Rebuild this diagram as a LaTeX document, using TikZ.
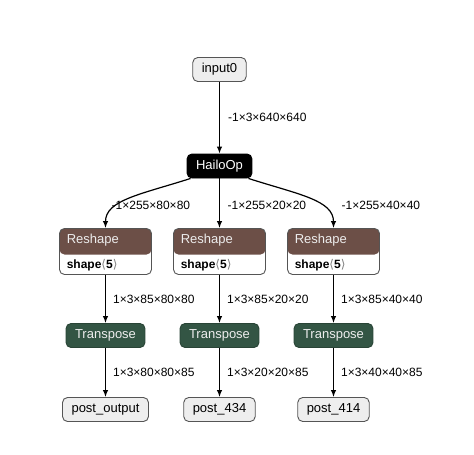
\documentclass[tikz,border=0pt]{standalone}
\usepackage{fontspec}
\setmainfont{Liberation Sans}
\newfontfamily\symfont{DejaVu Sans}
\usepackage{xcolor}
\usepackage{tikz}
\usetikzlibrary{arrows.meta,positioning}

\definecolor{nodegray}{HTML}{EEEEEE}
\definecolor{bordergray}{HTML}{555555}
\definecolor{layerbrown}{HTML}{6C4F47}
\definecolor{transgreen}{HTML}{335544}

\begin{document}
\begin{tikzpicture}[x=1pt,y=1pt,
        op/.style={draw=bordergray, line width=0.9pt, rounded corners=5pt, fill=nodegray,
            minimum height=24pt, inner xsep=9pt, inner ysep=0pt, font=\fontsize{13}{15}\selectfont},
        hailo/.style={op, fill=black, draw=black, text=white},
        trans/.style={op, fill=transgreen, draw=transgreen!80!black, text=white!93!black},
        reshape/.style={draw=bordergray, line width=0.9pt, rounded corners=5pt, fill=white,
            minimum width=92pt, minimum height=46pt, inner sep=0pt,
            path picture={\fill[layerbrown] ([yshift=-26pt]path picture bounding box.north west)
                rectangle (path picture bounding box.north east);}},
        hdr/.style={anchor=west, inner sep=0pt, text=white!93!black, font=\fontsize{13}{15}\selectfont},
        attr/.style={anchor=west, inner sep=0pt, font=\fontsize{12}{14}\selectfont},
        lbl/.style={inner sep=0pt, font=\fontsize{12}{14}\selectfont},
        edge/.style={line width=1.2pt, -{Latex[length=7pt,width=5.5pt]}}]
    \fill [white] (0,0) rectangle (474,-455);
    \useasboundingbox (0,0) rectangle (474,-455);
    % nodes
    \node [op] (in0) at (219.5,-69.5) {input0};
    \node [hailo] (hop) at (219.5,-166) {HailoOp};
    \node [reshape] (r1) at (105.5,-251.5) {};
    \node [reshape] (r2) at (219.5,-251.5) {};
    \node [reshape] (r3) at (333.5,-251.5) {};
    \node [hdr] (r1h) at ([xshift=7.5pt,yshift=-12pt]r1.north west) {Reshape};
    \node [hdr] (r2h) at ([xshift=7.5pt,yshift=-12pt]r2.north west) {Reshape};
    \node [hdr] (r3h) at ([xshift=7.5pt,yshift=-12pt]r3.north west) {Reshape};
    \node [attr] (r1a) at ([xshift=7.5pt,yshift=10pt]r1.south west) {\textbf{shape}{\symfont\textcolor{gray}{⟨}}\textbf{5}{\symfont\textcolor{gray}{⟩}}};
    \node [attr] (r2a) at ([xshift=7.5pt,yshift=10pt]r2.south west) {\textbf{shape}{\symfont\textcolor{gray}{⟨}}\textbf{5}{\symfont\textcolor{gray}{⟩}}};
    \node [attr] (r3a) at ([xshift=7.5pt,yshift=10pt]r3.south west) {\textbf{shape}{\symfont\textcolor{gray}{⟨}}\textbf{5}{\symfont\textcolor{gray}{⟩}}};
    \node [trans] (t1) at (105.5,-335.5) {Transpose};
    \node [trans] (t2) at (219.5,-335.5) {Transpose};
    \node [trans] (t3) at (333.5,-335.5) {Transpose};
    \node [op] (p1) at (105.5,-409.5) {post\_output};
    \node [op] (p2) at (219.5,-409.5) {post\_434};
    \node [op] (p3) at (333.5,-409.5) {post\_414};
    % edges
    \draw [edge] (in0) -- node [lbl, right=8pt] {-1×3×640×640} (hop);
    \draw [edge] ([xshift=4pt]hop.south west) .. controls +(-50,-16) and +(0,28) .. (r1.north);
    \draw [edge] (hop) -- (r2);
    \draw [edge] ([xshift=-4pt]hop.south east) .. controls +(50,-16) and +(0,28) .. (r3.north);
    \node [lbl, anchor=west] (e1) at ([xshift=6pt,yshift=23pt]r1.north) {-1×255×80×80};
    \node [lbl, anchor=west] (e2) at ([xshift=8pt,yshift=23pt]r2.north) {-1×255×20×20};
    \node [lbl, anchor=west] (e3) at ([xshift=8pt,yshift=23pt]r3.north) {-1×255×40×40};
    \draw [edge] (r1) -- node [lbl, right=7pt] {1×3×85×80×80} (t1);
    \draw [edge] (r2) -- node [lbl, right=7pt] {1×3×85×20×20} (t2);
    \draw [edge] (r3) -- node [lbl, right=7pt] {1×3×85×40×40} (t3);
    \draw [edge] (t1) -- node [lbl, right=7pt] {1×3×80×80×85} (p1);
    \draw [edge] (t2) -- node [lbl, right=7pt] {1×3×20×20×85} (p2);
    \draw [edge] (t3) -- node [lbl, right=7pt] {1×3×40×40×85} (p3);
\end{tikzpicture}
\end{document}
